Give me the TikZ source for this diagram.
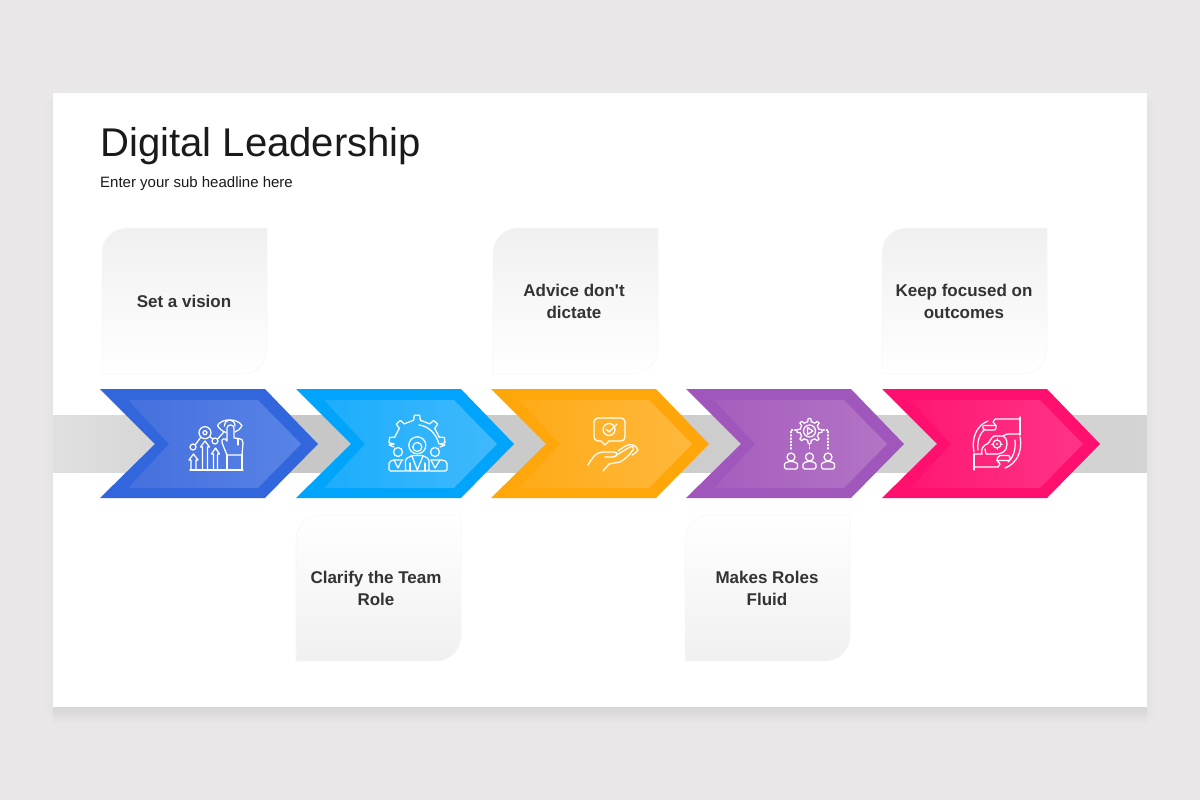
\documentclass[tikz,border=0pt]{standalone}
\usepackage{fontspec}
\setmainfont{Liberation Sans}
\definecolor{pagegray}{HTML}{E9E7E8}
\definecolor{shadowgray}{HTML}{D7D5D6}
\definecolor{sidegray}{HTML}{E4E2E3}
\definecolor{cardgray}{HTML}{F0F0F0}
\definecolor{cardedge}{HTML}{F7F7F7}
\definecolor{inkgray}{HTML}{333333}
\definecolor{titleink}{HTML}{1A1A1A}
\definecolor{blueedge}{HTML}{3266DC}
\definecolor{bluea}{HTML}{4670DD}
\definecolor{blueb}{HTML}{5883E6}
\definecolor{cyanedge}{HTML}{00A5FB}
\definecolor{cyana}{HTML}{1CADFC}
\definecolor{cyanb}{HTML}{40B9FC}
\definecolor{orangeedge}{HTML}{FFA70A}
\definecolor{orangea}{HTML}{FFAB18}
\definecolor{orangeb}{HTML}{FFB83C}
\definecolor{purpleedge}{HTML}{A057BC}
\definecolor{purplea}{HTML}{A55EBE}
\definecolor{purpleb}{HTML}{B374C5}
\definecolor{pinkedge}{HTML}{FF0F6E}
\definecolor{pinka}{HTML}{FF1872}
\definecolor{pinkb}{HTML}{FF3388}
\tikzset{
  icon/.style={draw=white,line width=1.25pt,line cap=round,line join=round},
  cardtext/.style={font=\fontsize{17}{22}\selectfont\bfseries,text=inkgray,align=center},
}
% chevron: x offset, edge colour, left and right fill colours
\newcommand{\chevron}[4]{
  \fill[#2] (#1,389) -- ++(165,0) -- ++(53,55) -- ++(-53,54) -- ++(-165,0) -- ++(55,-54) -- cycle;
  \shade[left color=#3,right color=#4] (#1+28,400) -- ++(130,0) -- ++(43,44) -- ++(-43,44) -- ++(-130,0) -- ++(41,-44) -- cycle;
}
% card with two rounded corners: x, y, top colour, bottom colour
\newcommand{\cardshape}[4]{
  \shade[top color=#3,bottom color=#4,draw=cardedge,line width=0.6pt]
    (#1,#2+146) -- (#1,#2+25) .. controls (#1,#2+11) and (#1+11,#2) .. (#1+25,#2)
    -- (#1+165,#2) -- (#1+165,#2+121) .. controls (#1+165,#2+135) and (#1+154,#2+146) .. (#1+140,#2+146) -- cycle;
}
% gear teeth around the current shift: angles, tooth half width, slope, radii
\newcommand{\gearteeth}[5]{
  \foreach \a in {#1}
    \draw[icon] ({\a-#2-#3}:#4) -- ({\a-#2}:#5) -- ({\a+#2}:#5) -- ({\a+#2+#3}:#4);
}
\begin{document}
\begin{tikzpicture}[x=1pt,y=-1pt]
  \useasboundingbox (0,0) rectangle (1200,800);
  \fill[pagegray] (0,0) rectangle (1200,800);

  % soft shadow of the slide
  \shade[top color=shadowgray,bottom color=pagegray] (53,707) rectangle (1147,724);
  \shade[left color=pagegray,right color=sidegray] (44,100) rectangle (53,716);
  \shade[left color=sidegray,right color=pagegray] (1147,100) rectangle (1156,716);
  \fill[white] (53,93) rectangle (1147,707);

  \node[anchor=base west,inner sep=0pt,text=titleink,font=\fontsize{40.1}{44}\selectfont] (title) at (100,156) {Digital Leadership};
  \node[anchor=base west,inner sep=0pt,text=titleink,font=\fontsize{15}{18}\selectfont] (subtitle) at (100,187) {Enter your sub headline here};

  % grey band behind the chevrons
  \shade[left color=black!12,right color=black!22] (53,415) rectangle (300,472);
  \shade[left color=black!22,right color=black!17] (300,415) rectangle (1147,472);

  % chevrons
  \chevron{100}{blueedge}{bluea}{blueb}
  \chevron{296}{cyanedge}{cyana}{cyanb}
  \chevron{491}{orangeedge}{orangea}{orangeb}
  \chevron{686}{purpleedge}{purplea}{purpleb}
  \chevron{882}{pinkedge}{pinka}{pinkb}

  % cards
  \cardshape{102}{228}{cardgray}{white}
  \cardshape{493}{228}{cardgray}{white}
  \cardshape{882}{228}{cardgray}{white}
  \cardshape{296}{515}{white}{cardgray}
  \cardshape{685}{515}{white}{cardgray}

  \node[cardtext] (vision) at (184,301) {Set a vision};
  \node[cardtext] (advice) at (574,301) {Advice don\textquotesingle t\\dictate};
  \node[cardtext] (focus) at (964,301) {Keep focused on\\outcomes};
  \node[cardtext] (clarify) at (376,588) {Clarify the Team\\Role};
  \node[cardtext] (fluid) at (767,588) {Makes Roles\\Fluid};

  % icon 1: chart and hand
  \draw[icon] (190,470) -- (243,470);
  \draw[icon] (191,470) -- (191,460) -- (189,460) -- (193.5,454) -- (198,460) -- (196,460) -- (196,470);
  \draw[icon] (202.5,470) -- (202.5,447) -- (200.5,447) -- (205,441) -- (209.5,447) -- (207.5,447) -- (207.5,470);
  \draw[icon] (213.5,470) -- (213.5,454) -- (211.5,454) -- (215.5,448) -- (219.5,454) -- (217.5,454) -- (217.5,470);
  \draw[icon] (193,447) circle (3);
  \draw[icon] (205,432.7) circle (6);
  \draw[icon] (205,432.7) circle (2);
  \draw[icon] (215,441) circle (3);
  \draw[icon] (195.5,444.5) -- (201,437);
  \draw[icon] (209.5,436.5) -- (213,439);
  \draw[icon] (217.5,439) -- (224,432);
  \draw[icon] (226,432.5) .. controls (222,431) and (219.5,429) .. (217.5,425.5) .. controls (222,418) and (237,418) .. (242,425.5) .. controls (240,429) and (238,431) .. (235,432);
  \draw[icon] (224.5,426) .. controls (224.5,418) and (235,418) .. (235,426);
  \draw[icon] (227,455) .. controls (225,450) and (223,446) .. (222,442) .. controls (221,439) and (225,437) .. (227,441)
     -- (227,428) .. controls (227,424) and (234,424) .. (234,428) -- (234,438) -- (239,438.5) .. controls (242,439) and (243,440) .. (243,443) -- (242,455) -- cycle;
  \draw[icon] (227,455) -- (227,470);
  \draw[icon] (242,455) -- (242,470);
  \draw[icon] (238,439) -- (238,445);

  % icon 2: team in a gear
  \begin{scope}[shift={(417,443)}]
    \gearteeth{186,228,270,312,354}{5.5}{3}{23}{28}
    \draw[icon] (194.5:23) -- (219.5:23);
    \draw[icon] (236.5:23) -- (261.5:23);
    \draw[icon] (278.5:23) -- (303.5:23);
    \draw[icon] (320.5:23) -- (345.5:23);
    \draw[icon] (177.5:23) -- (-28,2) -- (-23,4);
    \draw[icon] (2.5:23) -- (28,2) -- (23,4);
  \end{scope}
  \draw[icon] (419,425) .. controls (428,426) and (436,433) .. (439,444);
  \draw[icon] (417.3,445.3) circle (8.5);
  \draw[icon] (417.3,447) circle (4.5);
  \draw[icon] (398,452) circle (4.5);
  \draw[icon] (435,452) circle (4.5);
  \draw[icon,rounded corners=1.5pt] (405.5,471) -- (405.5,459) -- (412,455.5) -- (423,455.5) -- (429,459) -- (429,471) -- cycle;
  \draw[icon] (412,456) -- (417.3,470) -- (423,456);
  \draw[icon] (410,471) -- (410,463);
  \draw[icon] (425,471) -- (425,463);
  \draw[icon,rounded corners=1.5pt] (405.5,471) -- (389,471) -- (389,462) -- (393,460) -- (403,460);
  \draw[icon,rounded corners=1.5pt] (429,471) -- (447,471) -- (447,462) -- (443,460) -- (431,460);
  \draw[icon] (394,460) -- (398,468) -- (402,460);
  \draw[icon] (431,460) -- (435,468) -- (440,460);

  % icon 3: speech bubble over a hand
  \draw[icon,rounded corners=4pt] (601,441) -- (594,441) -- (594,418) -- (625,418) -- (625,441) -- (609,441);
  \draw[icon] (601,441) -- (605,445) -- (609,441);
  \draw[icon] (609,429.5) circle (6);
  \draw[icon] (606,429) -- (609,432) -- (617,424);
  \draw[icon] (588,465) .. controls (593,457) and (596,452) .. (603,452) -- (614,452) .. controls (618,452) and (618,457) .. (613,457) -- (605,457);
  \draw[icon] (615,456) -- (630,447) .. controls (633,445) and (635,449) .. (632,451) .. controls (630,455) and (625,459) .. (620,462) -- (609,464) -- (603,471);
  \draw[icon] (618,451) .. controls (622,448) and (625,446) .. (628,445) .. controls (632,444) and (636,445) .. (638,450) .. controls (636,453) and (634,454) .. (632,455);

  % icon 4: gear with play button over three people
  \begin{scope}[shift={(809.5,431)}]
    \gearteeth{0,45,...,315}{6}{5}{9.5}{12.5}
    \foreach \a in {0,45,...,315}
      \draw[icon] ({\a+11}:9.5) -- ({\a+34}:9.5);
  \end{scope}
  \draw[icon] (809.5,431) circle (6);
  \draw[icon] (807.5,427.5) -- (807.5,434.5) -- (813,431) -- cycle;
  \draw[icon,dotted] (796,430) -- (791,430) -- (791,450);
  \draw[icon,dotted] (823,430) -- (828,430) -- (828,450);
  \draw[icon,dotted] (809.5,444) -- (809.5,450);
  \foreach \x in {791,809.5,828} {
    \draw[icon] (\x,457) circle (4);
    \draw[icon,rounded corners=1.5pt] (\x-6.5,469) -- (\x-6.5,466) .. controls (\x-6.5,463) and (\x-3,461.5) .. (\x,461.5) .. controls (\x+3,461.5) and (\x+6.5,463) .. (\x+6.5,466) -- (\x+6.5,469) -- cycle;
  }

  % icon 5: interlocked hands
  \draw[icon] (1020,417) -- (1020,435);
  \draw[icon] (974,454) -- (974,470);
  \draw[icon] (1020,419) -- (995,419) -- (993,422) -- (996,425.5) -- (984,425.5);
  \draw[icon,rounded corners=2pt] (996,425.5) -- (996,430) -- (983,430) -- (983,426);
  \draw[icon] (1020,434) -- (1008,434) .. controls (1005,434) and (1004,436) .. (1003,436) -- (994,436) .. controls (990,438) and (990,444) .. (985,445) .. controls (982,447) and (981,451) .. (982,454) -- (974,454);
  \draw[icon] (1003,436) .. controls (1007,438) and (1008,443) .. (1006,449) .. controls (1004,452) and (1001,454) .. (998,454) -- (986,454) -- (985,449);
  \draw[icon] (974,467) -- (998,467) -- (1000,464) -- (997,460.5) -- (1009,460.5);
  \draw[icon,rounded corners=2pt] (997,460.5) -- (998,455.5) -- (1010,455.5) -- (1010,460);
  \draw[icon] (988,421) .. controls (977,425) and (971,438) .. (974,452);
  \draw[icon] (985,429) .. controls (980,433) and (977,440) .. (978,450);
  \draw[icon] (1005,468) .. controls (1016,464) and (1023,452) .. (1020,437);
  \draw[icon] (1008,462) .. controls (1013,458) and (1016,450) .. (1015,440);
  \draw[icon] (997,444) circle (4);
  \fill[white] (997,444) circle (1.2);
  \foreach \a in {0,90,180,270}
    \draw[icon,line width=0.9pt] (997,444) ++(\a:4) -- ++(\a:1.5);
\end{tikzpicture}
\end{document}
